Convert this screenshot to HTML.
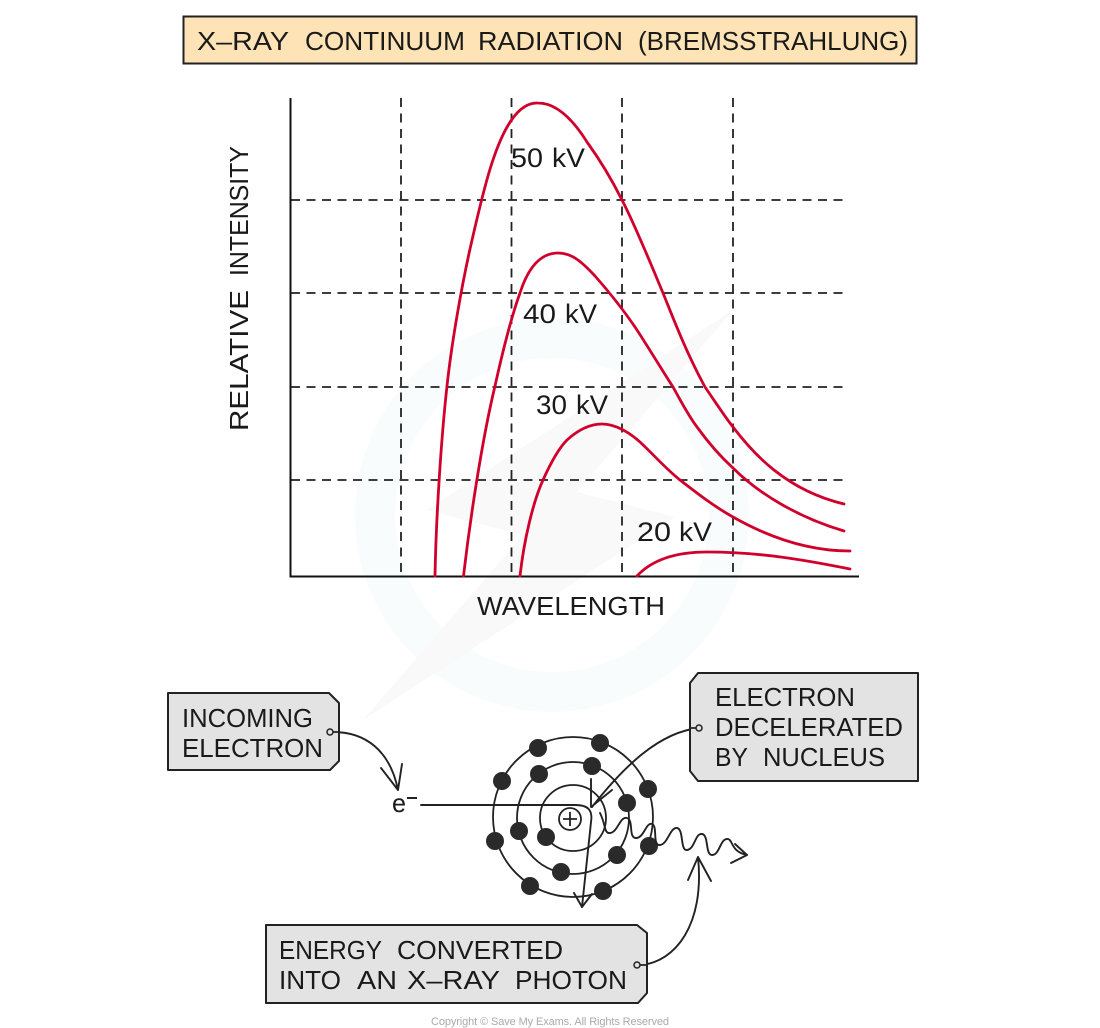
<!DOCTYPE html>
<html><head><meta charset="utf-8"><style>
html,body{margin:0;padding:0;background:#fff}
svg{display:block}
text{font-family:"Liberation Sans",sans-serif;fill:#1a1a1a;font-size:26px}
</style></head><body>
<svg width="1100" height="1028" viewBox="0 0 1100 1028" xmlns="http://www.w3.org/2000/svg">
<!-- watermark -->
<circle cx="552" cy="515" r="177" fill="none" stroke="#f8fcfd" stroke-width="40"/>
<path d="M733 310L427 510L523 535L363 720L675 517L577 492Z" fill="#f9f9f9"/>
<!-- title -->
<rect x="183.500" y="16.500" width="733" height="47" fill="#fde3b6" stroke="#222" stroke-width="2"/>
<text x="197" y="50" textLength="92" lengthAdjust="spacingAndGlyphs">X–RAY</text>
<text x="305" y="50" textLength="160" lengthAdjust="spacingAndGlyphs">CONTINUUM</text>
<text x="478" y="50" textLength="145" lengthAdjust="spacingAndGlyphs">RADIATION</text>
<text x="638" y="50" textLength="270" lengthAdjust="spacingAndGlyphs">(BREMSSTRAHLUNG)</text>
<!-- grid -->
<g stroke="#222" stroke-width="1.800" stroke-dasharray="9 6.500" fill="none">
<path d="M401 98V576M511.500 98V576M622 98V576M733 98V576"/>
<path d="M291 200H844M291 293H844M291 387H844M291 480H844"/>
</g>
<path d="M290.500 98V576.500H859" fill="none" stroke="#111" stroke-width="2"/>
<!-- curves -->
<g fill="none" stroke="#d0002c" stroke-width="2.800" stroke-linecap="round">
<path d="M435 576C436 520 441 440 447 386C452 340 462 285 470 249C477 218 484 188 491 166C503 128 518 102 538 103C556 103 572 118 587 142C600 160 612 180 622 200C635 225 650 262 663 293C672 315 685 350 705 387C716 403 725 417 733 427C752 452 785 490 844 504"/>
<path d="M463.500 576C470 520 482 440 495 386C503 350 512 315 520 293C528 268 540 253 558 253C572 253 582 262 595 276C610 293 625 312 637 330C650 350 662 370 673 387C682 403 688 415 697 427C710 445 722 458 733 468C760 495 800 518 844 531"/>
<path d="M520 576C524 540 533 502 543 480C552 460 560 447 567 440C578 430 590 424 602 424C616 424 630 433 640 442C655 456 665 468 680 480C698 494 715 507 733 517C770 538 810 551 850 551"/>
<path d="M637 576C650 562 672 552 707 552C760 552 805 560 850 569"/>
</g>
<!-- graph labels -->
<text x="511" y="167" textLength="32" lengthAdjust="spacingAndGlyphs" style="font-size:27px">50</text>
<text x="552" y="167" textLength="33" lengthAdjust="spacingAndGlyphs" style="font-size:27px">kV</text>
<text x="523" y="323" textLength="33" lengthAdjust="spacingAndGlyphs" style="font-size:27px">40</text>
<text x="565" y="323" textLength="32" lengthAdjust="spacingAndGlyphs" style="font-size:27px">kV</text>
<text x="536" y="414" textLength="31" lengthAdjust="spacingAndGlyphs" style="font-size:27px">30</text>
<text x="576" y="414" textLength="32" lengthAdjust="spacingAndGlyphs" style="font-size:27px">kV</text>
<text x="637" y="541" textLength="34" lengthAdjust="spacingAndGlyphs" style="font-size:27px">20</text>
<text x="679" y="541" textLength="33" lengthAdjust="spacingAndGlyphs" style="font-size:27px">kV</text>
<text x="477" y="615" textLength="188" lengthAdjust="spacingAndGlyphs">WAVELENGTH</text>
<text transform="translate(248 431) rotate(-90)" textLength="141" lengthAdjust="spacingAndGlyphs">RELATIVE</text>
<text transform="translate(248 276) rotate(-90)" textLength="130" lengthAdjust="spacingAndGlyphs">INTENSITY</text>
<!-- atom -->
<g fill="none" stroke="#222" stroke-width="1.800">
<circle cx="573" cy="818" r="33"/><circle cx="573" cy="818" r="56"/><circle cx="573" cy="817" r="80"/>
<circle cx="570" cy="819" r="11"/><path d="M563 819H577M570 812V826"/>
</g>
<g fill="#2a2a2a">
<circle cx="538" cy="748" r="9"/><circle cx="600" cy="743" r="9"/><circle cx="502" cy="781" r="9"/><circle cx="648" cy="789" r="9"/><circle cx="539" cy="774" r="9"/><circle cx="592" cy="766" r="9"/><circle cx="627" cy="803" r="9"/><circle cx="519" cy="831" r="9"/><circle cx="495" cy="841" r="9"/><circle cx="546" cy="837" r="9"/><circle cx="649" cy="846" r="9"/><circle cx="617" cy="855" r="9"/><circle cx="561" cy="872" r="9"/><circle cx="530" cy="886" r="9"/><circle cx="603" cy="891" r="9"/>
</g>
<text x="392" y="812" textLength="14" lengthAdjust="spacingAndGlyphs">e</text>
<path d="M407 798H417" stroke="#222" stroke-width="2"/>
<g fill="none" stroke="#222" stroke-width="1.900" stroke-linecap="round" stroke-linejoin="round">
<path d="M421 805H575C588 805 593 810 591 822L582 907"/>
<path d="M574 893L582 907L592 894"/>
<path d="M699 728C660 732 625 765 592 807M591 779V807L612 790"/>
<path d="M600 813C606 825 604 834 610 833C618 832 620 816 627 818C634 820 628 838 636 838C644 838 646 822 652 824C658 826 652 846 660 845C668 844 670 827 677 828C684 829 680 851 687 850C695 849 695 833 702 834C709 835 705 855 712 855C720 855 720 838 728 839C733 840 731 852 747 855"/>
<path d="M735 844L747 855L731 863"/>
<path d="M641 965C675 962 705 925 698 857M688 880L698 857L711 881"/>
<path d="M333 732C365 732 390 750 398 790M381 768L398 790L402 764"/>
</g>
<!-- label boxes -->
<g fill="#e3e3e3" stroke="#222" stroke-width="2" stroke-linejoin="round">
<path d="M168 693H329L339 703V761L330 770H168Z"/>
<path d="M698 673H918V781H698L690 771V683Z"/>
<path d="M266 925H637L647 933V993L638 1003H266Z"/>
</g>
<g fill="#e3e3e3" stroke="#222" stroke-width="1.500">
<circle cx="330" cy="732" r="3"/><circle cx="699" cy="728" r="3"/><circle cx="637" cy="965" r="3"/>
</g>
<path d="M333 732H340M696 728H689M640 965H648" stroke="#222" stroke-width="1.800"/>
<text x="182" y="727" textLength="131" lengthAdjust="spacingAndGlyphs">INCOMING</text>
<text x="182" y="757" textLength="141" lengthAdjust="spacingAndGlyphs">ELECTRON</text>
<text x="715" y="706" textLength="140" lengthAdjust="spacingAndGlyphs">ELECTRON</text>
<text x="715" y="736" textLength="188" lengthAdjust="spacingAndGlyphs">DECELERATED</text>
<text x="715" y="766" textLength="33" lengthAdjust="spacingAndGlyphs">BY</text>
<text x="763" y="766" textLength="122" lengthAdjust="spacingAndGlyphs">NUCLEUS</text>
<text x="279" y="959" textLength="103" lengthAdjust="spacingAndGlyphs">ENERGY</text>
<text x="397" y="959" textLength="166" lengthAdjust="spacingAndGlyphs">CONVERTED</text>
<text x="279" y="989" textLength="62" lengthAdjust="spacingAndGlyphs">INTO</text>
<text x="357" y="989" textLength="40" lengthAdjust="spacingAndGlyphs">AN</text>
<text x="407" y="989" textLength="93" lengthAdjust="spacingAndGlyphs">X–RAY</text>
<text x="515" y="989" textLength="112" lengthAdjust="spacingAndGlyphs">PHOTON</text>
<text x="431" y="1025" textLength="238" style="font-size:11px;fill:#aaa">Copyright © Save My Exams. All Rights Reserved</text>
</svg>
</body></html>
